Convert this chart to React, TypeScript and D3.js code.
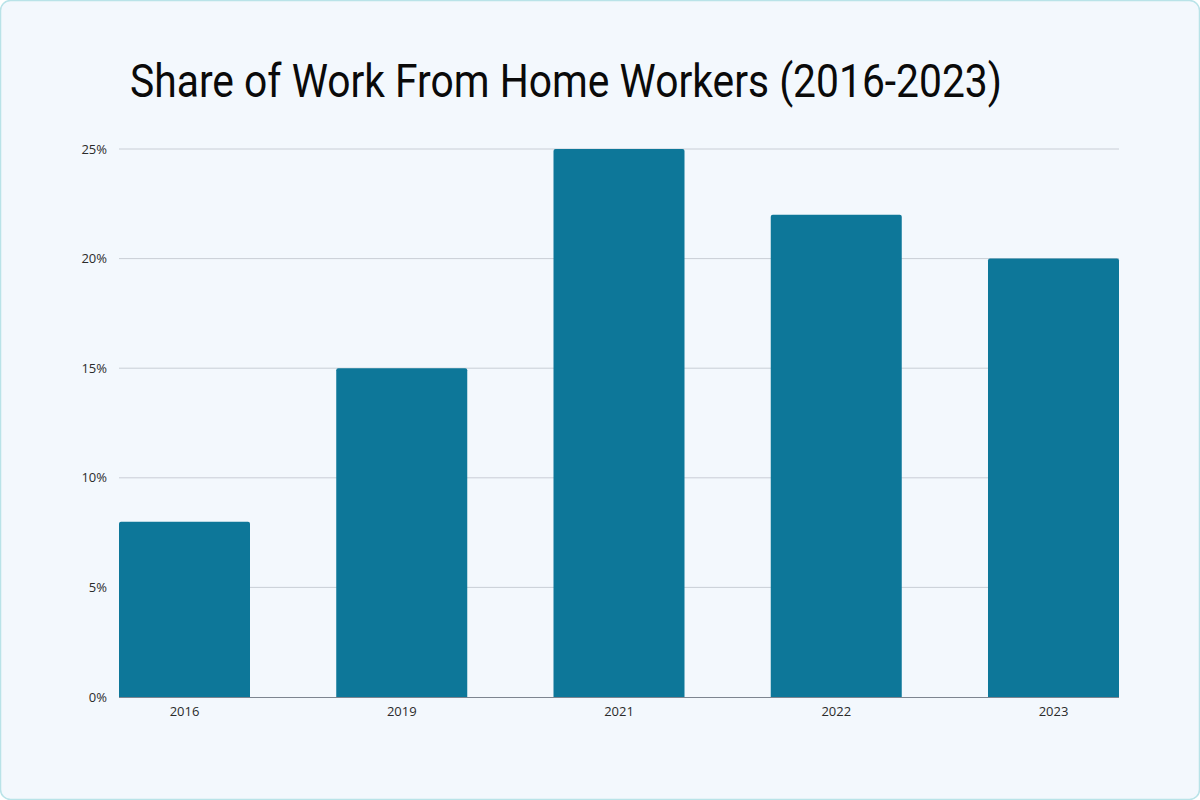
import React from "react";
import * as d3 from "d3";

const years = ["2016", "2019", "2021", "2022", "2023"];
const shares = [8, 15, 25, 22, 20];
const yTicks = [0, 5, 10, 15, 20, 25];
const title = "Share of Work From Home Workers (2016-2023)";

export default function App() {
  const W = 1200, H = 800;
  const left = 119, right = 1119, top = 149, bottom = 697;
  const x = d3.scaleBand<string>().domain(years).range([left, right]).paddingInner(0.397).paddingOuter(0);
  const y = d3.scaleLinear().domain([0, 25]).range([bottom, top]);
  const r = 2;
  const barPath = (x0: number, w: number, y0: number, y1: number) => {
    const p = d3.path();
    p.moveTo(x0, y1);
    p.lineTo(x0, y0 + r);
    p.quadraticCurveTo(x0, y0, x0 + r, y0);
    p.lineTo(x0 + w - r, y0);
    p.quadraticCurveTo(x0 + w, y0, x0 + w, y0 + r);
    p.lineTo(x0 + w, y1);
    p.closePath();
    return p.toString();
  };
  return (
    <svg width={W} height={H} style={{ position: "absolute", left: 0, top: 0 }}>
      <rect x={0.5} y={0.5} width={W - 1} height={H - 1} rx={10} fill="#f3f8fd" stroke="#b9e3e8" strokeWidth={1.5} />
      <text x={130} y={97} fontFamily="Roboto, 'Noto Sans', sans-serif" fontSize={46} fill="#0a0a0a"
        textLength={872} lengthAdjust="spacingAndGlyphs">{title}</text>
      {yTicks.filter(t => t > 0).map(t => (
        <line key={"g" + t} x1={left} x2={right} y1={y(t)} y2={y(t)} stroke="#c9ced6" strokeWidth={1} />
      ))}
      {yTicks.map(t => (
        <text key={"t" + t} x={107} y={y(t)} dy="0.35em" textAnchor="end"
          fontFamily="'Open Sans', sans-serif" fontSize={13} fill="#2b2b2b">{t + "%"}</text>
      ))}
      {years.map((yr, i) => (
        <path key={yr} d={barPath(x(yr)!, x.bandwidth(), y(shares[i]), y(0))} fill="#0d7799" />
      ))}
      <line x1={left} x2={right} y1={bottom + 0.5} y2={bottom + 0.5} stroke="#7d8590" strokeWidth={1} />
      {years.map(yr => (
        <text key={"x" + yr} x={x(yr)! + x.bandwidth() / 2} y={716} textAnchor="middle"
          fontFamily="'Open Sans', sans-serif" fontSize={13} fill="#2b2b2b">{yr}</text>
      ))}
    </svg>
  );
}
